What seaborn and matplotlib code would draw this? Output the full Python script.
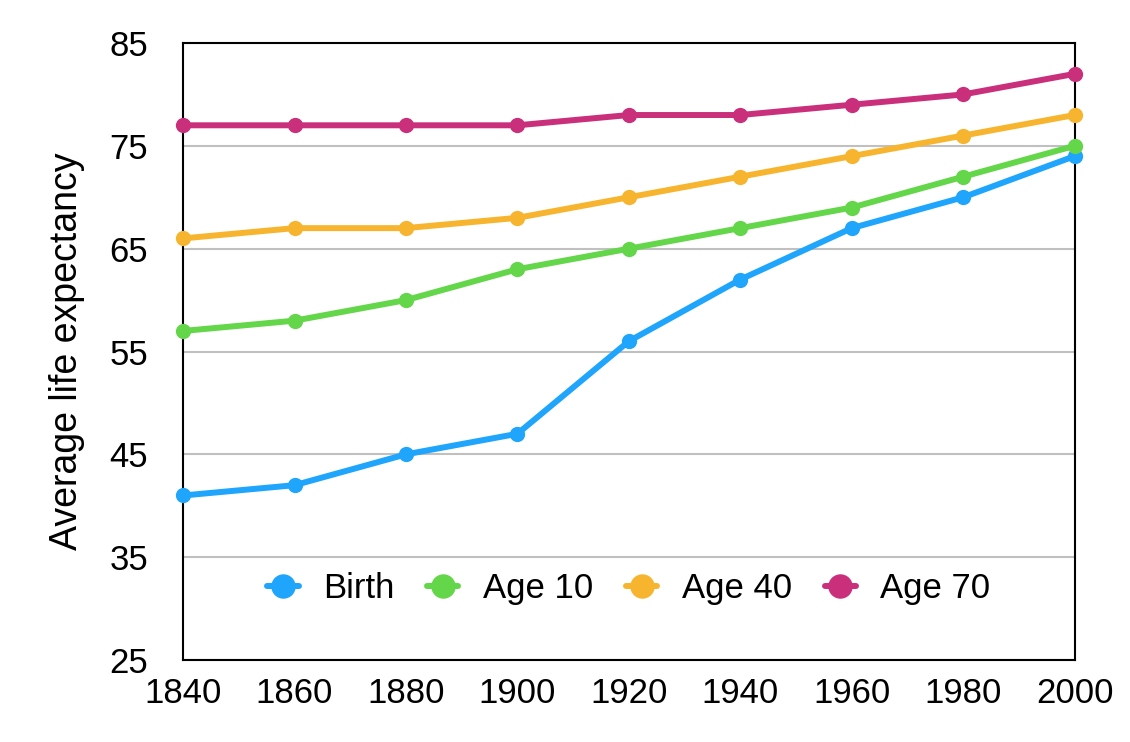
import matplotlib
matplotlib.use("Agg")
import matplotlib.pyplot as plt
import seaborn as sns
import pandas as pd

years = [1840, 1860, 1880, 1900, 1920, 1940, 1960, 1980, 2000]
birth = [41, 42, 45, 47, 56, 62, 67, 70, 74]
age10 = [57, 58, 60, 63, 65, 67, 69, 72, 75]
age40 = [66, 67, 67, 68, 70, 72, 74, 76, 78]
age70 = [77, 77, 77, 77, 78, 78, 79, 80, 82]
series_names = ["Birth", "Age 10", "Age 40", "Age 70"]
colors = ["#1fa5fb", "#63d64a", "#f7b52f", "#c92f7b"]
y_ticks = [25, 35, 45, 55, 65, 75, 85]

df = pd.DataFrame({"year": years, "Birth": birth, "Age 10": age10,
                   "Age 40": age40, "Age 70": age70})
long = df.melt(id_vars="year", var_name="series", value_name="value")

sns.set_style("white")
plt.rcParams["font.family"] = ["Liberation Sans", "DejaVu Sans"]
plt.rcParams["text.color"] = "black"
plt.rcParams["xtick.color"] = "black"
plt.rcParams["ytick.color"] = "black"
plt.rcParams["axes.labelcolor"] = "black"

fig = plt.figure(figsize=(11.3, 7.42), dpi=100)
ax = fig.add_axes([0.162, 0.1105, 0.789, 0.8315])

sns.lineplot(data=long, x="year", y="value", hue="series", hue_order=series_names,
             palette=colors, marker="o", markersize=11, markeredgewidth=0,
             linewidth=4.3, ax=ax, zorder=3)

ax.set_xlim(1840, 2000)
ax.set_ylim(25, 85)
ax.set_xticks(years)
ax.set_yticks(y_ticks)
ax.tick_params(axis="x", labelsize=25, length=0, pad=12)
ax.tick_params(axis="y", labelsize=25, length=0, pad=25)
ax.set_xlabel("")
ax.set_ylabel("Average life expectancy", fontsize=27, labelpad=18)
ax.yaxis.grid(True, color="#c0c0c0", linewidth=1.5, zorder=0)
ax.xaxis.grid(False)
for s in ax.spines.values():
    s.set_color("black")
    s.set_linewidth(1.5)
for line in ax.lines:
    line.set_clip_on(False)

ax.legend(loc="center", bbox_to_anchor=(0.5, 0.116), ncol=4, frameon=False,
          fontsize=25, handlelength=0.9, handletextpad=0.7, columnspacing=0.95,
          markerscale=1.6)

fig.savefig("out.png", dpi=100)
